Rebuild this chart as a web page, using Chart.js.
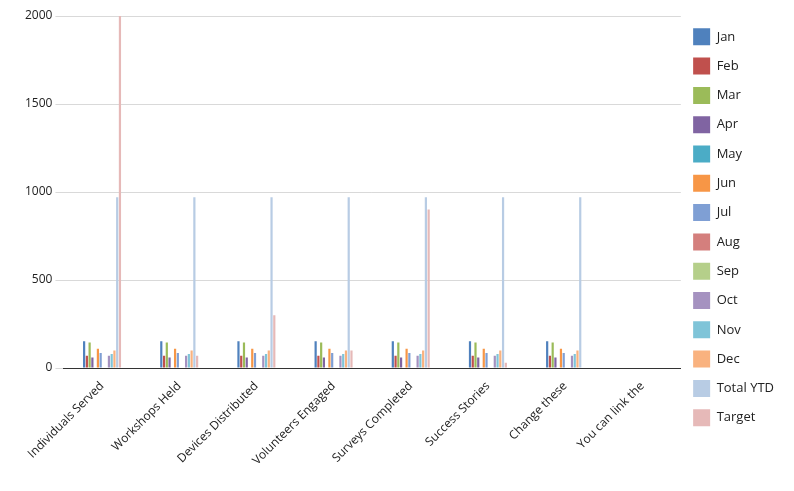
<!DOCTYPE html><html><head><script src="https://cdn.jsdelivr.net/npm/chart.js"></script>
<style>body{margin:0;background:#fff}#w{width:794px;height:491px}</style></head><body><div id="w"><canvas id="c"></canvas></div>
<script>
const categories=["Individuals Served","Workshops Held","Devices Distributed","Volunteers Engaged","Surveys Completed","Success Stories","Change these","You can link the"];
const seriesNames=["Jan","Feb","Mar","Apr","May","Jun","Jul","Aug","Sep","Oct","Nov","Dec","Total YTD","Target"];
const colors=["#4f81bd","#c0504d","#9bbb59","#8064a2","#4bacc6","#f79646","#7f9fd4","#d47f7d","#b5cf8a","#a592c0","#7fc4d8","#f9b27f","#b8cce4","#e6b9b8"];
const Jan=[152,152,152,152,152,152,152,null];
const Feb=[70,70,70,70,70,70,70,null];
const Mar=[145,145,145,145,145,145,145,null];
const Apr=[60,60,60,60,60,60,60,null];
const May=[0,0,0,0,0,0,0,null];
const Jun=[110,110,110,110,110,110,110,null];
const Jul=[85,85,85,85,85,85,85,null];
const Aug=[0,0,0,0,0,0,0,null];
const Sep=[0,0,0,0,0,0,0,null];
const Oct=[70,70,70,70,70,70,70,null];
const Nov=[80,80,80,80,80,80,80,null];
const Dec=[100,100,100,100,100,100,100,null];
const TotalYTD=[970,970,970,970,970,970,970,null];
const Target=[2000,70,300,100,900,30,null,null];
const yTicks=[0,500,1000,1500,2000];
const all=[Jan,Feb,Mar,Apr,May,Jun,Jul,Aug,Sep,Oct,Nov,Dec,TotalYTD,Target];
new Chart(document.getElementById('c'),{type:'bar',
data:{labels:categories,datasets:all.map((d,i)=>({label:seriesNames[i],data:d,backgroundColor:colors[i],barPercentage:0.8,categoryPercentage:0.5}))},
options:{responsive:true,maintainAspectRatio:false,animation:false,
layout:{padding:{top:16,left:22,right:10,bottom:20}},
plugins:{legend:{position:'right',align:'start',labels:{boxWidth:17,boxHeight:17,padding:12.3,color:'#222',font:{family:'Open Sans',size:13}}},tooltip:{enabled:false}},
scales:{x:{grid:{display:false},border:{color:'#333'},ticks:{maxRotation:45,minRotation:45,color:'#222',font:{family:'Open Sans',size:12}}},
y:{min:0,max:2000,afterBuildTicks:a=>{a.ticks=yTicks.map(v=>({value:v}))},ticks:{callback:v=>String(v),color:'#222',font:{family:'Open Sans',size:12}},grid:{color:'#d9d9d9'},border:{display:false}}}}});
</script></body></html>
